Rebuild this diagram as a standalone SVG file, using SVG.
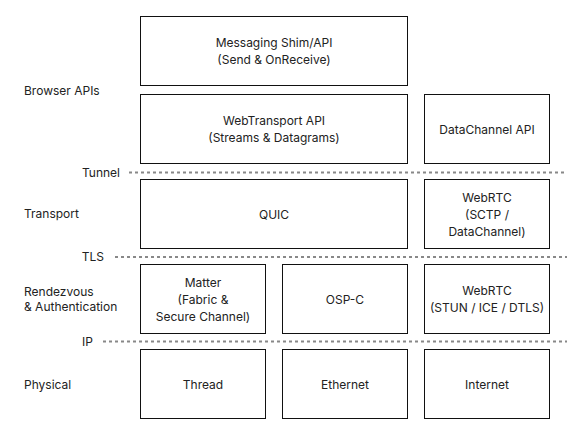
<svg xmlns="http://www.w3.org/2000/svg" width="582" height="435" viewBox="0 0 582 435">
<style>
rect{fill:#fff;stroke:#111;stroke-width:1}
text{font-family:Inter,"Liberation Sans",sans-serif;font-size:12px;fill:#222}
.c{text-anchor:middle}
.e{text-anchor:end}
.d{stroke:#888;stroke-width:2;stroke-dasharray:3 3;fill:none}
</style>
<rect width="582" height="435" style="fill:#fff;stroke:none"/>
<g id="labels">
<text x="24" y="95">Browser APIs</text>
<text x="24" y="218">Transport</text>
<text x="24" y="296">Rendezvous</text>
<text x="24" y="311">&amp; Authentication</text>
<text x="24" y="388.5">Physical</text>
<text class="e" x="120" y="176.5">Tunnel</text>
<text class="e" x="104" y="261">TLS</text>
<text class="e" x="93" y="345.5">IP</text>
</g>
<g id="connectors">
<line class="d" x1="129" y1="172.5" x2="567" y2="172.5"/>
<line class="d" x1="115" y1="257" x2="567" y2="257"/>
<line class="d" x1="103" y1="341.5" x2="567" y2="341.5"/>
</g>
<g id="messaging"><rect x="140.5" y="16.5" width="267" height="69"/><text class="c" x="274" y="47">Messaging Shim/API</text><text class="c" x="274" y="64">(Send &amp; OnReceive)</text></g>
<g id="webtransport"><rect x="140.5" y="94.5" width="267" height="69"/><text class="c" x="274" y="125">WebTransport API</text><text class="c" x="274" y="142">(Streams &amp; Datagrams)</text></g>
<g id="datachannel"><rect x="424.5" y="94.5" width="125" height="69"/><text class="c" x="487" y="133.5">DataChannel API</text></g>
<g id="quic"><rect x="140.5" y="179.5" width="267" height="69"/><text class="c" x="274" y="218.5">QUIC</text></g>
<g id="webrtc-sctp"><rect x="424.5" y="179.5" width="125" height="69"/><text class="c" x="487" y="201.5">WebRTC</text><text class="c" x="487" y="218.5">(SCTP /</text><text class="c" x="487" y="235.5">DataChannel)</text></g>
<g id="matter"><rect x="140.5" y="264.5" width="125" height="69"/><text class="c" x="203" y="286.5">Matter</text><text class="c" x="203" y="303.5">(Fabric &amp;</text><text class="c" x="203" y="320.5">Secure Channel)</text></g>
<g id="ospc"><rect x="282.5" y="264.5" width="125" height="69"/><text class="c" x="345" y="303.5">OSP-C</text></g>
<g id="webrtc-stun"><rect x="424.5" y="264.5" width="125" height="69"/><text class="c" x="487" y="295">WebRTC</text><text class="c" x="487" y="312">(STUN / ICE / DTLS)</text></g>
<g id="thread"><rect x="140.5" y="349.5" width="125" height="69"/><text class="c" x="203" y="388.5">Thread</text></g>
<g id="ethernet"><rect x="282.5" y="349.5" width="125" height="69"/><text class="c" x="345" y="388.5">Ethernet</text></g>
<g id="internet"><rect x="424.5" y="349.5" width="125" height="69"/><text class="c" x="487" y="388.5">Internet</text></g>
</svg>
